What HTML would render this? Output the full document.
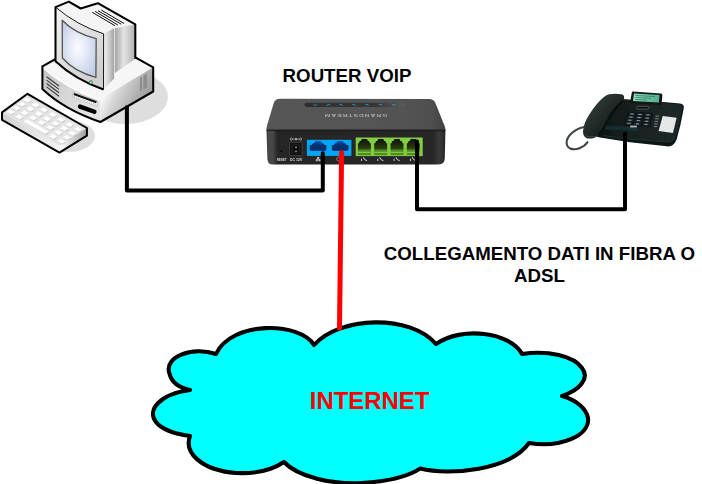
<!DOCTYPE html>
<html lang="it">
<head>
<meta charset="utf-8">
<title>Router VoIP</title>
<style>
html,body{margin:0;padding:0;background:#fff;}
body{width:702px;height:484px;overflow:hidden;position:relative;font-family:"Liberation Sans",sans-serif;}
svg{position:absolute;left:0;top:0;display:block;}
.lbl{position:absolute;font-weight:bold;color:#000;white-space:nowrap;line-height:1;}
#t1{left:282.6px;top:66.6px;font-size:18.7px;}
#t2{left:359.4px;top:243.3px;width:360px;text-align:center;font-size:18.7px;line-height:21.4px;white-space:nowrap;}
#t3{left:309.8px;top:389.4px;font-size:23.9px;color:#f00;}
</style>
</head>
<body>
<svg width="702" height="484" viewBox="0 0 702 484">

<!-- PC -->
<defs>
<radialGradient id="gScreen" cx="0.48" cy="0.5" r="0.62" fx="0.45" fy="0.48">
<stop offset="0" stop-color="#fbfcff"/><stop offset="0.45" stop-color="#e2e8f6"/><stop offset="1" stop-color="#bfcbe6"/>
</radialGradient>
<linearGradient id="gSide" x1="0" y1="0" x2="1" y2="0.5">
<stop offset="0.22" stop-color="#ffffff"/><stop offset="0.45" stop-color="#d6d6d6"/><stop offset="0.8" stop-color="#aaaaaa"/><stop offset="1" stop-color="#989898"/>
</linearGradient>
<linearGradient id="gBack" x1="0" y1="0" x2="1" y2="0">
<stop offset="0" stop-color="#ffffff"/><stop offset="0.06" stop-color="#a8a8a8"/><stop offset="0.45" stop-color="#e4e4e4"/><stop offset="1" stop-color="#b0b0b0"/>
</linearGradient>
<linearGradient id="gBez" x1="0" y1="0" x2="1" y2="0">
<stop offset="0" stop-color="#f2f2f2"/><stop offset="0.4" stop-color="#d8d8d8"/><stop offset="1" stop-color="#a4a4a4"/>
</linearGradient>
<linearGradient id="gFront" x1="0" y1="0" x2="1" y2="0.6">
<stop offset="0" stop-color="#c4c4c4"/><stop offset="0.5" stop-color="#d6d6d6"/><stop offset="1" stop-color="#e4e4e4"/>
</linearGradient>
<linearGradient id="gMonF" x1="0" y1="0" x2="0.6" y2="1">
<stop offset="0" stop-color="#f4f4f4"/><stop offset="0.5" stop-color="#e2e2e2"/><stop offset="1" stop-color="#cfcfcf"/>
</linearGradient>
<linearGradient id="gKb" x1="0" y1="0" x2="1" y2="0">
<stop offset="0" stop-color="#ffffff"/><stop offset="1" stop-color="#a0a0a0"/>
</linearGradient>
<linearGradient id="gKbF" x1="0" y1="0" x2="1" y2="0">
<stop offset="0" stop-color="#d0d0d0"/><stop offset="1" stop-color="#f4f4f4"/>
</linearGradient>
</defs>
<g id="pc" stroke-linejoin="round">
<ellipse cx="125" cy="97" rx="43" ry="27" fill="#dedede"/>
<ellipse cx="68" cy="136" rx="27" ry="16" fill="#dedede"/>
<!-- cpu box -->
<path d="M42.4 66.4 L97 36 L153.2 67.3 V91.5 L100.4 122 Q64 109.6 42.4 89 Z" fill="#f6f6f6"/>
<path d="M100.3 99.2 L153.2 67.3 V91.5 L100.4 122 Z" fill="url(#gSide)"/>
<path d="M42.4 66.4 Q66 87.6 100.3 99.2 L100.4 122 Q64 109.6 42.4 89 Z" fill="url(#gFront)"/>
<path d="M43.2 67.9 Q66.6 88.6 100.3 100" fill="none" stroke="#fff" stroke-width="1.6"/>
<path d="M42.4 66.4 L97 36 L153.2 67.3 V91.5 L100.4 122 Q64 109.6 42.4 89 Z" fill="none" stroke="#000" stroke-width="2.05"/>
<!-- cpu details -->
<g stroke="#3c3c3c" stroke-width="1.1" fill="none">
<path d="M46.6 76.7 L59 86 M46.6 80.1 L59 89.4 M46.6 83.5 L59 92.8 M46.6 86.9 L59 96.2"/>
</g>
<path d="M73 92.2 L97.2 101 V106.4 L73 97.4 Z" fill="#fff" stroke="#999" stroke-width="0.5"/>
<path d="M73.8 94.1 L96.4 102.3" stroke="#111" stroke-width="2.1"/>
<path d="M74 96.4 L96.6 104.6" stroke="#888" stroke-width="0.7" stroke-dasharray="1 1"/>
<path d="M80 106.6 L94.4 111.8" stroke="#000" stroke-width="4.4" stroke-linecap="round"/>
<path d="M140 77.4 l2.1 -1.2 v14 l-2.1 1.2 z M143.4 75.6 l3.6 -2.1 v14 l-3.6 2.1 z" fill="#8e8e8e"/>
<!-- monitor -->
<path d="M55.5 7.1 L68.8 1.6 L80.7 8.5 L97.8 3.2 L135.3 24.4 V58.7 L114.1 73.5 V78.4 L103.5 89.5 Q75 79.6 55.5 61.3 Z" fill="#f4f4f4"/>
<path d="M114.1 28.2 L135.3 24.4 V58.7 L114.1 73.5 Z" fill="url(#gBack)"/>
<path d="M103.6 33.8 L114.1 28.2 V78.4 L103.5 89.5 Z" fill="url(#gBez)"/>
<path d="M55.5 7.1 Q77 25.4 103.6 33.8 L103.5 89.5 Q75 79.6 55.5 61.3 Z" fill="url(#gMonF)"/>
<path d="M55.5 7.1 Q77 25.4 103.6 33.8 L103.5 89.5" fill="none" stroke="#000" stroke-width="0.9"/>
<path d="M62.2 20.2 Q75 33.6 96.2 38.6 L95.9 77.4 Q74 71.4 62.4 58 Z" fill="url(#gScreen)" stroke="#555" stroke-width="1.3"/>
<path d="M103.5 89.5 Q75 79.6 55.5 61.3 L55.5 7.1 L68.8 1.6 L80.7 8.5 L97.8 3.2 L135.3 24.4 V58.7" fill="none" stroke="#000" stroke-width="2.05"/>
<g stroke="#111" stroke-width="1">
<path d="M92.2 12.3 L115 25.7 M95.1 11.4 L117.9 25 M98 10.7 L121.2 24.2 M101.3 10.1 L124.1 23.5"/>
</g>
<circle cx="90.9" cy="82.3" r="1.6" fill="#b4e8b4" stroke="#2a6a2a" stroke-width="0.8"/>
<!-- keyboard -->
<path d="M27.5 93.8 L86.9 128 V135.6 L59.5 152.6 L2 119.9 V112.4 Z" fill="#e4e4e4"/>
<path d="M59.5 145.8 L86.9 128 V135.6 L59.5 152.6 Z" fill="url(#gKb)"/>
<path d="M2 112.4 L59.5 145.8 V152.6 L2 119.9 Z" fill="url(#gKbF)"/>
<path d="M27.5 93.8 L86.9 128 V135.6 L59.5 152.6 L2 119.9 V112.4 Z" fill="none" stroke="#000" stroke-width="2"/>
<g id="keys" fill="#fff" stroke="#fff" stroke-width="0.3">
<polygon points="27.3,98.5 31.7,101.1 28.4,103.5 24.1,100.9" fill="#bdbdbd" stroke="none"/>
<polygon points="26.8,97.7 31.2,100.3 27.9,102.7 23.5,100.1"/>
<polygon points="35.8,103.4 40.1,105.9 36.9,108.3 32.5,105.8" fill="#bdbdbd" stroke="none"/>
<polygon points="35.2,102.6 39.6,105.1 36.3,107.5 31.9,105.0"/>
<polygon points="44.2,108.3 48.6,110.8 45.3,113.2 40.9,110.6" fill="#bdbdbd" stroke="none"/>
<polygon points="43.6,107.5 48.0,110.0 44.8,112.4 40.4,109.8"/>
<polygon points="52.6,113.1 57.0,115.6 53.8,118.0 49.4,115.5" fill="#bdbdbd" stroke="none"/>
<polygon points="52.1,112.3 56.5,114.8 53.2,117.2 48.8,114.7"/>
<polygon points="61.1,118.0 65.5,120.5 62.2,122.9 57.8,120.3" fill="#bdbdbd" stroke="none"/>
<polygon points="60.5,117.2 64.9,119.7 61.6,122.1 57.2,119.5"/>
<polygon points="69.5,122.8 73.9,125.4 70.6,127.7 66.2,125.2" fill="#bdbdbd" stroke="none"/>
<polygon points="68.9,122.0 73.3,124.6 70.1,126.9 65.7,124.4"/>
<polygon points="77.9,127.7 82.3,130.2 79.1,132.6 74.7,130.1" fill="#bdbdbd" stroke="none"/>
<polygon points="77.4,126.9 81.8,129.4 78.5,131.8 74.1,129.3"/>
<polygon points="21.8,102.5 26.2,105.1 23.0,107.4 18.6,104.9" fill="#bdbdbd" stroke="none"/>
<polygon points="21.3,101.7 25.7,104.3 22.4,106.6 18.0,104.1"/>
<polygon points="30.3,107.4 34.7,109.9 31.4,112.3 27.0,109.8" fill="#bdbdbd" stroke="none"/>
<polygon points="29.7,106.6 34.1,109.1 30.8,111.5 26.5,109.0"/>
<polygon points="38.7,112.3 43.1,114.8 39.8,117.2 35.4,114.6" fill="#bdbdbd" stroke="none"/>
<polygon points="38.2,111.5 42.5,114.0 39.3,116.4 34.9,113.8"/>
<polygon points="47.1,117.1 51.5,119.6 48.3,122.0 43.9,119.5" fill="#bdbdbd" stroke="none"/>
<polygon points="46.6,116.3 51.0,118.8 47.7,121.2 43.3,118.7"/>
<polygon points="55.6,122.0 60.0,124.5 56.7,126.9 52.3,124.3" fill="#bdbdbd" stroke="none"/>
<polygon points="55.0,121.2 59.4,123.7 56.2,126.1 51.8,123.5"/>
<polygon points="64.0,126.8 68.4,129.4 65.1,131.7 60.7,129.2" fill="#bdbdbd" stroke="none"/>
<polygon points="63.5,126.0 67.9,128.6 64.6,130.9 60.2,128.4"/>
<polygon points="72.4,131.7 76.8,134.2 73.6,136.6 69.2,134.1" fill="#bdbdbd" stroke="none"/>
<polygon points="71.9,130.9 76.3,133.4 73.0,135.8 68.6,133.3"/>
<polygon points="16.4,106.5 20.7,109.1 17.5,111.4 13.1,108.9" fill="#bdbdbd" stroke="none"/>
<polygon points="15.8,105.7 20.2,108.3 16.9,110.6 12.5,108.1"/>
<polygon points="24.8,111.4 29.2,113.9 25.9,116.3 21.5,113.8" fill="#bdbdbd" stroke="none"/>
<polygon points="24.2,110.6 28.6,113.1 25.4,115.5 21.0,113.0"/>
<polygon points="33.2,116.2 37.6,118.8 34.4,121.2 30.0,118.6" fill="#bdbdbd" stroke="none"/>
<polygon points="32.7,115.4 37.1,118.0 33.8,120.4 29.4,117.8"/>
<polygon points="41.7,121.1 46.1,123.6 42.8,126.0 38.4,123.5" fill="#bdbdbd" stroke="none"/>
<polygon points="41.1,120.3 45.5,122.8 42.2,125.2 37.8,122.7"/>
<polygon points="50.1,126.0 54.5,128.5 51.2,130.9 46.8,128.3" fill="#bdbdbd" stroke="none"/>
<polygon points="49.5,125.2 53.9,127.7 50.7,130.1 46.3,127.5"/>
<polygon points="58.5,130.8 62.9,133.3 59.7,135.7 55.3,133.2" fill="#bdbdbd" stroke="none"/>
<polygon points="58.0,130.0 62.4,132.5 59.1,134.9 54.7,132.4"/>
<polygon points="67.0,135.7 71.4,138.2 68.1,140.6 63.7,138.1" fill="#bdbdbd" stroke="none"/>
<polygon points="66.4,134.9 70.8,137.4 67.5,139.8 63.1,137.3"/>
<polygon points="10.9,110.5 15.3,113.1 12.0,115.4 7.6,112.9" fill="#bdbdbd" stroke="none"/>
<polygon points="10.3,109.7 14.7,112.3 11.4,114.6 7.1,112.1"/>
<polygon points="19.3,115.4 23.7,117.9 20.4,120.3 16.0,117.8" fill="#bdbdbd" stroke="none"/>
<polygon points="18.8,114.6 23.1,117.1 19.9,119.5 15.5,117.0"/>
<polygon points="53.0,134.8 57.4,137.3 54.2,139.7 49.8,137.2" fill="#bdbdbd" stroke="none"/>
<polygon points="52.5,134.0 56.9,136.5 53.6,138.9 49.2,136.4"/>
<polygon points="61.5,139.7 65.9,142.2 62.6,144.6 58.2,142.1" fill="#bdbdbd" stroke="none"/>
<polygon points="60.9,138.9 65.3,141.4 62.1,143.8 57.7,141.3"/>
<polygon points="27.7,120.2 49.1,132.6 45.9,134.9 24.5,122.6" fill="#bdbdbd" stroke="none"/>
<polygon points="27.2,119.4 48.6,131.8 45.3,134.1 23.9,121.8"/>
</g>
</g>

<!-- ROUTER -->
<defs>
<linearGradient id="gTop" x1="0" y1="0" x2="1" y2="0">
<stop offset="0" stop-color="#565656"/><stop offset="0.6" stop-color="#545454"/><stop offset="0.92" stop-color="#505050"/><stop offset="1" stop-color="#404040"/>
</linearGradient>
<linearGradient id="gFace" x1="0" y1="0" x2="1" y2="0">
<stop offset="0" stop-color="#3a3a3a"/><stop offset="0.012" stop-color="#484848"/><stop offset="0.036" stop-color="#464646"/><stop offset="0.06" stop-color="#282828"/><stop offset="0.93" stop-color="#272727"/><stop offset="0.965" stop-color="#3a3a3a"/><stop offset="0.99" stop-color="#2c2c2c"/><stop offset="1" stop-color="#1e1e1e"/>
</linearGradient>
<linearGradient id="gBev" x1="0" y1="0" x2="0" y2="1">
<stop offset="0" stop-color="#2a2a2a" stop-opacity="0"/><stop offset="0.75" stop-color="#1e1e1e" stop-opacity="0.9"/><stop offset="1" stop-color="#1c1c1c"/>
</linearGradient>
<linearGradient id="gGh" x1="0" y1="0" x2="0" y2="1">
<stop offset="0" stop-color="#0e1406"/><stop offset="0.55" stop-color="#1e2c0c"/><stop offset="0.9" stop-color="#2c4410"/><stop offset="1" stop-color="#3a5c16"/>
</linearGradient>
<linearGradient id="gBh" x1="0" y1="0" x2="0" y2="1">
<stop offset="0" stop-color="#0a5cb4"/><stop offset="0.35" stop-color="#053374"/><stop offset="0.8" stop-color="#042c68"/><stop offset="1" stop-color="#0a4a98"/>
</linearGradient>
<linearGradient id="gLed" x1="0" y1="0" x2="1" y2="0"><stop offset="0" stop-color="#2e2e30"/><stop offset="0.7" stop-color="#363638"/><stop offset="1" stop-color="#5c5c5c"/></linearGradient>
<filter id="soft2" x="-5%" y="-5%" width="110%" height="110%"><feGaussianBlur stdDeviation="0.45"/></filter>
<filter id="soft" x="-5%" y="-5%" width="110%" height="110%"><feGaussianBlur stdDeviation="0.35"/></filter>
</defs>
<g id="router" filter="url(#soft2)">
<path d="M266.6 131 Q266.2 128 267.2 125 L273.6 103.4 Q275 98.8 280 98.8 L429 99 Q433.8 99 435.4 103 L444.8 126.4 Q445.6 129 445.4 131 Z" fill="url(#gTop)"/>
<path d="M266.6 131 Q266.3 129.6 266.6 128.4 H445.3 Q445.6 129.6 445.4 131 Z" fill="url(#gBev)"/>
<path d="M266.5 130.4 H445.4 L444.8 158 Q444.6 164.5 438.6 164.5 H272.6 Q267.6 164.5 267.4 159 Z" fill="url(#gFace)"/>
<path d="M267 130.9 H445" stroke="#1a1a1a" stroke-width="0.9"/>
<path d="M267.4 132 H274" stroke="#5a5a5a" stroke-width="0.8"/>
<!-- led strip -->
<rect x="304.4" y="102.7" width="100.6" height="4.3" rx="2.15" fill="url(#gLed)"/>
<g fill="none" stroke="#1aa4e6" stroke-width="0.9" filter="url(#soft)">
<path d="M313.6 104.2 l1.6 1.6 l1.6 -1.6 M326.4 105.6 l2.2 -1.2 l1.8 0.6 M339.4 104.4 h2.2 l0.8 1.4 M352.4 104.4 h2.2 l0.8 1.4 M365.4 104.4 h2.2 l0.8 1.4 M379 104.4 h2.2 l0.8 1.4 M392 104.8 h3.6"/>
</g>
<!-- logo -->
<text x="0" y="0" transform="translate(387.4 113.9) scale(-1.88 -1)" font-family="Liberation Sans, sans-serif" font-weight="bold" font-size="3.6" letter-spacing="0.5" fill="#a8a8a8" filter="url(#soft)">GRANDSTREAM</text>
<!-- reset / dc -->
<circle cx="281.4" cy="151" r="1.2" fill="#0a0a0a"/>
<text x="277" y="160.5" font-family="Liberation Sans, sans-serif" font-weight="bold" font-size="2.9" fill="#ddd" textLength="9.4" lengthAdjust="spacingAndGlyphs">RESET</text>
<text x="290" y="160.5" font-family="Liberation Sans, sans-serif" font-weight="bold" font-size="2.9" fill="#ddd" textLength="12.4" lengthAdjust="spacingAndGlyphs">DC 12V</text>
<g fill="none" stroke="#ccc" stroke-width="0.6">
<circle cx="291.4" cy="139.1" r="1.1"/><circle cx="296" cy="139.1" r="0.7" fill="#ccc"/><circle cx="300.6" cy="139.1" r="1.1"/><path d="M292.5 139.1 H299.5"/>
</g>
<rect x="289.6" y="142.2" width="12.6" height="13.4" rx="1" fill="#151515" stroke="#484848" stroke-width="0.8"/>
<circle cx="296" cy="148.2" r="3.7" fill="#050505" stroke="#3a3a3a" stroke-width="0.6"/>
<circle cx="296" cy="147.4" r="0.8" fill="#ddd"/>
<rect x="295.4" y="150.4" width="1.2" height="1.6" fill="#999"/>
<!-- blue ports -->
<rect x="306.9" y="139.8" width="44.5" height="16.1" fill="#05a6f6"/>
<g fill="url(#gBh)" filter="url(#soft)">
<path d="M315.4 141.1 h5.3 l1.2 1.8 h1 l1.6 2.1 h1.9 v4.5 l-1 1.6 h-14.7 l-1 -1.6 v-4.5 h1.9 l1.6 -2.1 h1 z"/>
<path d="M337.5 141.1 h5.3 l1.2 1.8 h1 l1.6 2.1 h1.9 v4.5 l-1 1.6 h-14.7 l-1 -1.6 v-4.5 h1.9 l1.6 -2.1 h1 z"/>
</g>
<g fill="none" stroke="#ddd" stroke-width="0.6">
<rect x="317.4" y="157.3" width="1.5" height="1.3"/><rect x="316.1" y="159.7" width="1.4" height="1.2"/><rect x="318.8" y="159.7" width="1.4" height="1.2"/><path d="M318.1 158.6 v0.6 M316.8 159.7 v-0.5 h2.7 v0.5"/>
</g>
<path d="M339.6 157.6 a1.9 1.9 0 1 0 0 3.2" fill="none" stroke="#bbb" stroke-width="0.6"/>
<!-- green ports -->
<rect x="355.7" y="137.5" width="67" height="18.6" fill="#84cc42"/>
<g fill="#4d8f22">
<rect x="357.9" y="149.6" width="13" height="5.6"/>
<rect x="374.2" y="149.6" width="13" height="5.6"/>
<rect x="390.5" y="149.6" width="13" height="5.6"/>
<rect x="406.8" y="149.6" width="13" height="5.6"/>
</g>
<g fill="url(#gGh)" filter="url(#soft)">
<path d="M361.9 139 h5 l1 2.1 h1.1 l1 2.2 h0.9 v6.5 h-13 v-6.5 h0.9 l1 -2.2 h1.1 z"/>
<path d="M378.2 139 h5 l1 2.1 h1.1 l1 2.2 h0.9 v6.5 h-13 v-6.5 h0.9 l1 -2.2 h1.1 z"/>
<path d="M394.5 139 h5 l1 2.1 h1.1 l1 2.2 h0.9 v6.5 h-13 v-6.5 h0.9 l1 -2.2 h1.1 z"/>
<path d="M410.8 139 h5 l1 2.1 h1.1 l1 2.2 h0.9 v6.5 h-13 v-6.5 h0.9 l1 -2.2 h1.1 z"/>
</g>
<g fill="#8ed64e">
<rect x="357.9" y="151.8" width="13" height="1"/>
<rect x="374.2" y="151.8" width="13" height="1"/>
<rect x="390.5" y="151.8" width="13" height="1"/>
<rect x="406.8" y="151.8" width="13" height="1"/>
</g>
<g fill="none" stroke="#e6e6e6" stroke-width="0.9" stroke-linecap="round">
<path d="M361.5 160.6 v-1.4 M363.5 157.6 q0.4 2.6 3.2 3"/>
<path d="M377.8 160.6 v-1.4 M379.8 157.6 q0.4 2.6 3.2 3"/>
<path d="M394.1 160.6 v-1.4 M396.1 157.6 q0.4 2.6 3.2 3"/>
<path d="M410.4 160.6 v-1.4 M412.4 157.6 q0.4 2.6 3.2 3"/>
</g>
</g>

<!-- PHONE -->
<defs>
<linearGradient id="gHs" x1="0" y1="0" x2="1" y2="1">
<stop offset="0" stop-color="#3a4442"/><stop offset="0.6" stop-color="#1c2423"/><stop offset="1" stop-color="#0c1111"/>
</linearGradient>
<linearGradient id="gBody" x1="0" y1="0" x2="1" y2="0">
<stop offset="0" stop-color="#0e1616"/><stop offset="0.5" stop-color="#1a2424"/><stop offset="1" stop-color="#1c2626"/>
</linearGradient>
<linearGradient id="gLcd" x1="0" y1="0" x2="1" y2="0">
<stop offset="0" stop-color="#8fe0b8"/><stop offset="1" stop-color="#4fae94"/>
</linearGradient>
</defs>
<g id="phone" filter="url(#soft2)">
<!-- cord -->
<path d="M584.5 127 C575 128.6 566.4 136 566.6 143 C567 149.4 574 150.6 580 148 C583.5 146.4 586 144.4 587.4 142.2" fill="none" stroke="#3a4444" stroke-width="2.1" stroke-linecap="round"/>
<!-- body rim -->
<path d="M592 132 L616 100 L624 99.2 L663 102 L680 103.6 Q684.4 104.2 683.8 108 L680.4 125 L676.6 139.5 Q673.4 147.2 667 146.3 L630 142.2 L600 137.6 Q593 136.2 592 132 Z" fill="#0c1413"/>
<!-- body top -->
<path d="M601 131.6 L624.4 99.6 L662.6 102.3 L680 104.4 Q682.8 104.8 682.2 108 L678.4 128 Q675.8 142.6 667.4 141.8 L630 139 L603 135.4 Z" fill="url(#gBody)"/>
<path d="M603 135.6 L630 139.2 L667.4 142 Q672 142.2 674.6 138" fill="none" stroke="#34504c" stroke-width="0.6" opacity="0.8"/>
<!-- glow -->
<path d="M606 125.6 L638 127.4 L637.6 131 L604.6 129.4 Z" fill="#1a4650" opacity="0.42" filter="url(#soft)"/>
<!-- keypad area -->
<path d="M628 111.4 L653 113 L650.6 127 L623 125.2 Z" fill="#0c1416"/>
<g fill="#cfd8dc" opacity="0.85">
<polygon points="629.3,112.8 635.3,113.2 634.7,115.2 628.6,114.9" fill="#27333a"/>
<rect x="630.5" y="113.5" width="3" height="0.9" fill="#b9c6cc"/>
<polygon points="637.2,113.3 643.3,113.6 642.7,115.7 636.6,115.4" fill="#27333a"/>
<rect x="638.5" y="114.0" width="3" height="0.9" fill="#b9c6cc"/>
<polygon points="645.1,113.8 651.2,114.1 650.8,116.2 644.7,115.8" fill="#27333a"/>
<rect x="646.5" y="114.4" width="3" height="0.9" fill="#b9c6cc"/>
<polygon points="628.2,115.9 634.4,116.3 633.7,118.4 627.5,118.0" fill="#27333a"/>
<rect x="629.5" y="116.6" width="3" height="0.9" fill="#b9c6cc"/>
<polygon points="636.3,116.4 642.5,116.8 642.0,118.9 635.7,118.5" fill="#27333a"/>
<rect x="637.6" y="117.1" width="3" height="0.9" fill="#b9c6cc"/>
<polygon points="644.4,116.9 650.6,117.3 650.2,119.4 643.9,119.0" fill="#27333a"/>
<rect x="645.8" y="117.6" width="3" height="0.9" fill="#b9c6cc"/>
<polygon points="627.1,119.0 633.4,119.4 632.8,121.5 626.3,121.1" fill="#27333a"/>
<rect x="628.4" y="119.7" width="3" height="0.9" fill="#b9c6cc"/>
<polygon points="635.4,119.5 641.7,119.9 641.2,122.0 634.8,121.6" fill="#27333a"/>
<rect x="636.8" y="120.2" width="3" height="0.9" fill="#b9c6cc"/>
<polygon points="643.7,120.1 650.0,120.5 649.6,122.6 643.2,122.1" fill="#27333a"/>
<rect x="645.2" y="120.8" width="3" height="0.9" fill="#b9c6cc"/>
<polygon points="626.0,122.1 632.4,122.5 631.8,124.6 625.2,124.2" fill="#27333a"/>
<rect x="627.4" y="122.8" width="3" height="0.9" fill="#b9c6cc"/>
<polygon points="634.5,122.7 640.9,123.1 640.4,125.2 633.9,124.7" fill="#27333a"/>
<rect x="635.9" y="123.4" width="3" height="0.9" fill="#b9c6cc"/>
<polygon points="643.0,123.2 649.4,123.6 649.1,125.7 642.5,125.3" fill="#27333a"/>
<rect x="644.5" y="123.9" width="3" height="0.9" fill="#b9c6cc"/>
<rect x="630.2" y="125.6" width="6.6" height="1.8" fill="#c8d4d8"/>
</g>
<g fill="#9aa4a6" opacity="0.7">
<rect x="655.4" y="115.6" width="3.6" height="1.1"/><rect x="655" y="118.2" width="3.6" height="1.1"/><rect x="654.6" y="120.8" width="3.6" height="1.1"/><rect x="654.2" y="123.4" width="3.6" height="1.1"/><rect x="653.8" y="126" width="3.6" height="1.1"/>
</g>
<path d="M638.4 106.4 h9.4 q1.4 0.2 1.2 1.4 t-1.6 1.2 h-9.4 q-1.4 -0.2 -1.2 -1.4 t1.6 -1.2 z" fill="#0a0e0e" stroke="#8a9494" stroke-width="0.5"/>
<!-- label -->
<path d="M662.7 116.1 L676.6 117.8 L673 133 L658.6 131.1 Z" fill="#e6e8e7"/>
<!-- display -->
<path d="M633 91.4 L661 93.5 Q662.5 93.7 662.4 95.2 L661.6 104.2 Q661.4 105.5 660 105.3 L631.2 103.2 Q630 103 630.2 101.8 L631.8 92.4 Q632 91.3 633 91.4 Z" fill="#141919"/>
<path d="M634 93.6 L659.5 95.1 L658.9 102.5 L633 100.9 Z" fill="url(#gLcd)"/>
<path d="M635.4 95.4 L655 96.6 M635.2 97.4 L651 98.4 M635 99.4 L647 100.2" stroke="#2b6a58" stroke-width="0.9" opacity="0.75"/>
<!-- handset -->
<path d="M609.4 94.2 Q616 93.2 622.4 94.6 Q624.4 95.4 624.2 98 Q624 100.4 621.6 102.6 Q612 110.6 606.6 121.4 Q602.4 130.4 598.6 135.2 Q594 139.3 587.4 138.4 Q583 137.4 583 131.6 Q583.4 123.4 589 115 Q596.6 102.8 604.6 96.6 Q607 94.6 609.4 94.2 Z" fill="url(#gHs)"/>
<path d="M622.8 100.6 Q612.6 109.6 607 121 Q602.8 129.6 598.8 134.2" fill="none" stroke="#060a0a" stroke-width="1.6" opacity="0.8"/>
<path d="M585.2 135.6 Q590 138 597.4 136.2" fill="none" stroke="#8a9694" stroke-width="0.6" opacity="0.6"/>
</g>

<!-- CLOUD -->
<g id="cloud">
<path d="M314 345 C300 322 232 320 216 354 C192 346 163 357 169.6 374 C172 384 181 388 190 390 C160 394 146.4 410 156 422 C162 430 176 434 190 436 C184 452 200 470 236 473 C256 474 272 470 284 462 C298 477 332 484.5 362 483 C386 481.5 408 476.5 420 468.6 C450 476 510 470 529 443 C560 448 590 436 588 418 C586 408 576 400 562 396 C580 390 590 378 582 368 C574 356 548 350 522 354 C510 332 462 326 436 344 C410 314 340 316 314 345 Z" fill="#00ffff" stroke="#000" stroke-width="4.1" stroke-linejoin="round"/>
</g>
<!-- LINES -->
<g id="lines" fill="none" stroke="#000" stroke-width="4" stroke-linejoin="round" stroke-linecap="round">
<path d="M126.9 107.2 V190.5 H322.8 V153.2"/>
<path d="M417 141.6 V209.2 H625 V134.1"/>
<path d="M341.6 152.7 L339.5 328.3" stroke="#f00" stroke-width="5"/>
</g>
</svg>
<div class="lbl" id="t1">ROUTER VOIP</div>
<div class="lbl" id="t2">COLLEGAMENTO DATI IN FIBRA O<br>ADSL</div>
<div class="lbl" id="t3">INTERNET</div>
</body>
</html>
